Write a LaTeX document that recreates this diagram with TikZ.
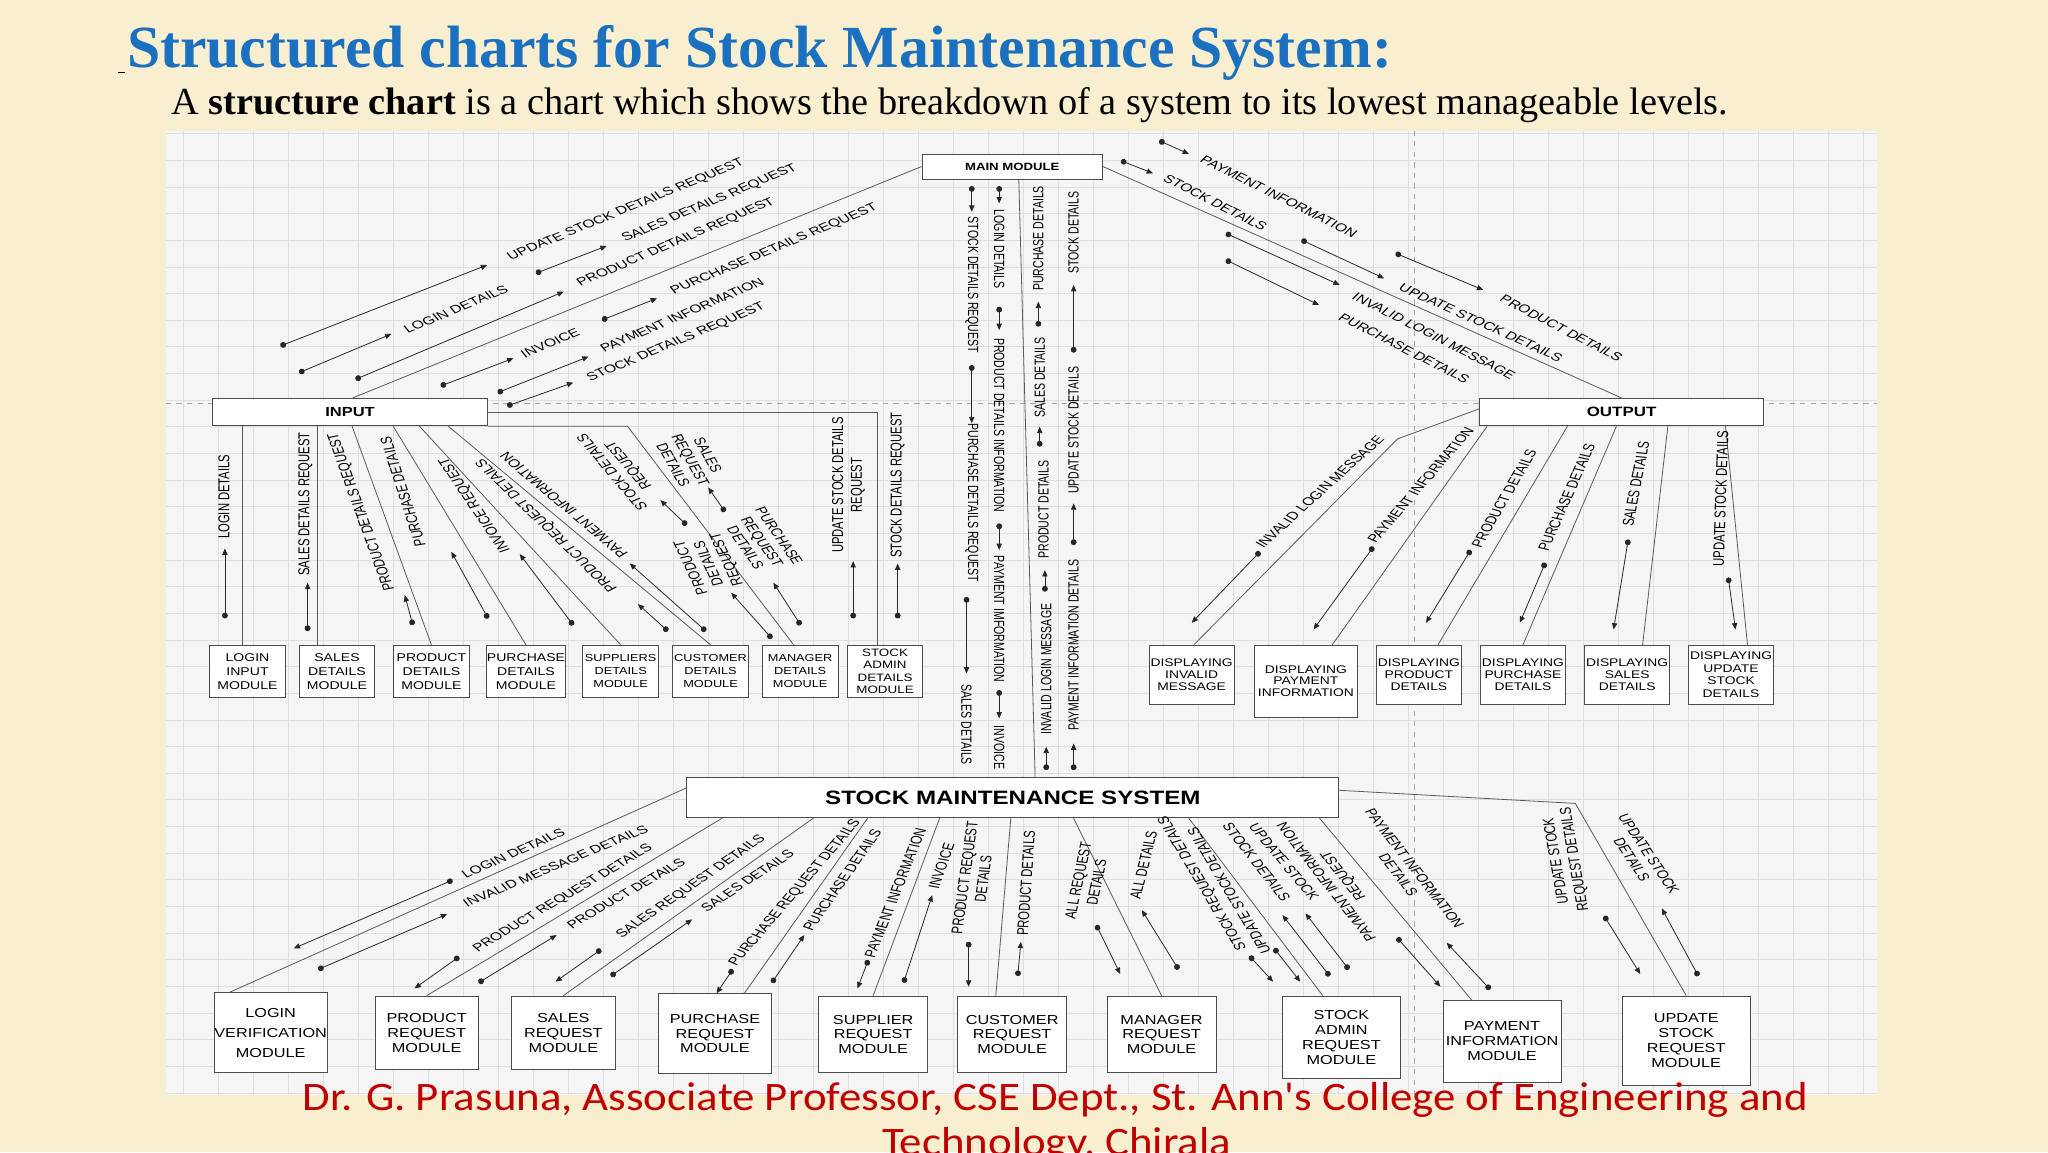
\documentclass[tikz,border=0pt]{standalone}
\usepackage{fontspec}
\setmainfont{Liberation Serif}
\newfontfamily\chartsans{Liberation Sans}
\newfontfamily\footsans{Carlito}
\usepackage{graphicx}
\usetikzlibrary{arrows.meta,calc}

\definecolor{parchment}{RGB}{248,239,208}
\definecolor{sheet}{RGB}{245,245,245}
\definecolor{gridline}{RGB}{222,222,222}
\definecolor{titleblue}{RGB}{28,112,192}
\definecolor{footred}{RGB}{192,0,0}
\newcommand\fsz[2]{\fontsize{#1}{#2}\selectfont}

\begin{document}
\begin{tikzpicture}[x=0.02612cm, y=-0.02612cm,
  box/.style={draw=black!70, fill=white, line width=0.5pt, inner sep=0pt,
    align=center, xscale=1.25, font=\chartsans\fsz{6.4}{8}},
  conn/.style={draw=black!65, line width=0.45pt},
  dflow/.style={draw=black!85, line width=0.45pt,
    arrows={Circle[length=3.3pt]-Triangle[length=3.6pt,width=3pt]}},
  lab/.style={font=\chartsans\fsz{6.4}{7.6}, inner sep=0pt, align=center,
    xscale=1.4, rotate={atan2(1.4*sin(#1),cos(#1))}},
  foot/.style={anchor=base, inner sep=0pt, text=footred, xscale=1.11,
    font=\footsans\fsz{23}{27}}]

  % box: name, centre, width, height, text
  \newcommand\chartbox[6][]{\node[box,#1,minimum width={#4*0.0209cm},
    minimum height={#5*0.02612cm}] (#2) at (#3) {#6};}
  % data couple: name, tail, head, label angle, label centre, label
  \newcommand\dataflow[6]{\coordinate (#1a) at (#2); \coordinate (#1b) at (#3);
    \draw[dflow] (#1a) -- (#1b);
    \node[lab=#4] (#1) at (#5) {#6};}

  \clip (0,0) rectangle (1568,882);
  \fill[parchment] (0,0) rectangle (1568,882);

  % drawing sheet with grid
  \fill[sheet] (127,100) rectangle (1437,838);
  \foreach \gx in {0,...,48}
    \draw[gridline, line width=0.35pt] ({140.4+26.8*\gx},100) -- ({140.4+26.8*\gx},838);
  \foreach \gy in {0,...,36}
    \draw[gridline, line width=0.35pt] (127,{102.3+20.4*\gy}) -- (1437,{102.3+20.4*\gy});
  \draw[black!35, dashed, line width=0.4pt] (127,309) -- (1437,309);
  \draw[black!35, dashed, line width=0.4pt] (1083,100) -- (1083,838);

  % title lines
  \draw[line width=0.9pt] (90.5,55.5) -- (95.5,55.5);
  \node[anchor=base west, inner sep=0pt, text=titleblue, font=\fsz{34}{40}\bfseries]
    (title) at (97,52) {Structured charts for Stock Maintenance System:};
  \node[anchor=base west, inner sep=0pt, font=\fsz{21.8}{25}]
    (subtitle) at (131,88) {A \textbf{structure chart} is a chart which shows the breakdown of a system to its lowest manageable levels.};

  % main boxes
  \chartbox[font=\chartsans\bfseries\fsz{6}{7}]{main}{775,127.5}{138}{19}{MAIN MODULE}
  \chartbox[font=\chartsans\bfseries\fsz{7.5}{9}]{input}{268,315.5}{210}{21}{INPUT}
  \chartbox[font=\chartsans\bfseries\fsz{7.7}{9}]{output}{1241.5,315.5}{217}{21}{OUTPUT}
  \chartbox[font=\chartsans\bfseries\fsz{11}{13}]{sms}{775.5,610.5}{499}{31}{STOCK MAINTENANCE SYSTEM}

  % input modules
  \chartbox{im1}{189.5,514}{58}{40}{LOGIN\\INPUT\\MODULE}
  \chartbox{im2}{258,514}{58}{40}{SALES\\DETAILS\\MODULE}
  \chartbox{im3}{330.3,514}{57.5}{40}{PRODUCT\\DETAILS\\MODULE}
  \chartbox{im4}{402.7,514}{58}{40}{PURCHASE\\DETAILS\\MODULE}
  \chartbox[font=\chartsans\fsz{5.8}{7.4}]{im5}{475.2,514}{58}{40}{SUPPLIERS\\DETAILS\\MODULE}
  \chartbox[font=\chartsans\fsz{5.8}{7.4}]{im6}{544,514}{58}{40}{CUSTOMER\\DETAILS\\MODULE}
  \chartbox[font=\chartsans\fsz{5.8}{7.4}]{im7}{612.6,514}{58}{40}{MANAGER\\DETAILS\\MODULE}
  \chartbox[font=\chartsans\fsz{6.1}{6.9}]{im8}{677.6,514}{57.5}{40}{STOCK\\ADMIN\\DETAILS\\MODULE}

  % output modules
  \chartbox[font=\chartsans\fsz{6.3}{6.8}]{od1}{912.3,516.5}{65}{45}{DISPLAYING\\INVALID\\MESSAGE}
  \chartbox[font=\chartsans\fsz{6.3}{6.8}]{od2}{999.8,521.5}{79.5}{55}{DISPLAYING\\PAYMENT\\INFORMATION}
  \chartbox[font=\chartsans\fsz{6.3}{6.8}]{od3}{1086.3,516.5}{65.5}{45}{DISPLAYING\\PRODUCT\\DETAILS}
  \chartbox[font=\chartsans\fsz{6.3}{6.8}]{od4}{1166,516.5}{65.6}{45}{DISPLAYING\\PURCHASE\\DETAILS}
  \chartbox[font=\chartsans\fsz{6.3}{6.8}]{od5}{1245.8,516.5}{65.2}{45}{DISPLAYING\\SALES\\DETAILS}
  \chartbox[font=\chartsans\fsz{6.3}{7.1}]{od6}{1325.3,516.5}{65}{45}{DISPLAYING\\UPDATE\\STOCK\\DETAILS}

  % request modules
  \chartbox[font=\chartsans\fsz{7.4}{8.5}]{bm1}{207.2,790.7}{86.6}{61.4}{LOGIN\\[3pt]VERIFICATION\\[3pt]MODULE}
  \chartbox[font=\chartsans\fsz{7.4}{8.5}]{bm2}{326.7,790.6}{79.2}{56}{PRODUCT\\REQUEST\\MODULE}
  \chartbox[font=\chartsans\fsz{7.4}{8.5}]{bm3}{431.3,790.6}{79.3}{56}{SALES\\REQUEST\\MODULE}
  \chartbox[font=\chartsans\fsz{7.4}{8.5}]{bm4}{547.4,791.3}{87.1}{61.5}{PURCHASE\\REQUEST\\MODULE}
  \chartbox[font=\chartsans\fsz{7.4}{8.5}]{bm5}{668.5,792}{83.8}{58.8}{SUPPLIER\\REQUEST\\MODULE}
  \chartbox[font=\chartsans\fsz{7.4}{8.5}]{bm6}{774.9,792}{83.8}{58.8}{CUSTOMER\\REQUEST\\MODULE}
  \chartbox[font=\chartsans\fsz{7.4}{8.5}]{bm7}{889.3,792}{83.4}{58.8}{MANAGER\\REQUEST\\MODULE}
  \chartbox[font=\chartsans\fsz{7.4}{8.5}]{bm8}{1027,794.3}{90.1}{63.4}{STOCK\\ADMIN\\REQUEST\\MODULE}
  \chartbox[font=\chartsans\fsz{7.4}{8.5}]{bm9}{1150,797.3}{90.5}{62.5}{PAYMENT\\INFORMATION\\MODULE}
  \chartbox[font=\chartsans\fsz{7.4}{8.5}]{bm10}{1291,796.8}{97.7}{68.4}{UPDATE\\STOCK\\REQUEST\\MODULE}

  % main module links
  \draw[conn] (main.west) -- ($(input.north)+(2,0)$);
  \draw[conn] (main.east) -- (output.north);
  \draw[conn] ($(main.south)+(5,0)$) -- ($(sms.north)+(17,0)$);

  % input links
  \draw[conn] ($(input.south west)+(23,0)$) coordinate (i1) -- (i1 |- im1.north);
  \draw[conn] ($(input.south west)+(80.6,0)$) coordinate (i2) -- (i2 |- im2.north);
  \draw[conn] ($(input.south west)+(107,0)$) -- (im3.north);
  \draw[conn] ($(input.south west)+(138.5,0)$) -- (im4.north);
  \draw[conn] ($(input.south west)+(158.6,0)$) -- (im5.north);
  \draw[conn] ($(input.south west)+(180.7,0)$) -- (im6.north);
  \draw[conn] (input.south east) -- ++(107,0) -- ($(im7.north)+(-5,0)$);
  \draw[conn] (input.east) -| ($(im8.north)+(-6,0)$);

  % output links
  \coordinate (obend) at (1070,336);
  \draw[conn] ($(output.west)+(0,-2.5)$) -- (obend) -- ($(od1.north)+(1.7,0)$);
  \draw[conn] ($(output.south west)+(6,0)$) -- ($(od2.north)+(20.2,0)$);
  \draw[conn] ($(output.south west)+(67.5,0)$) -- ($(od3.north)+(14.7,0)$);
  \draw[conn] ($(output.south west)+(105,0)$) -- (od4.north);
  \draw[conn] ($(output.south west)+(144.4,0)$) -- ($(od5.north)+(11.8,0)$);
  \draw[conn] ($(output.south west)+(188.5,0)$) -- ($(od6.north)+(12.6,0)$);

  % system links
  \draw[conn] ($(sms.north west)+(0,8.6)$) -- ($(bm1.north west)+(12.4,0)$);
  \draw[conn] ($(sms.south west)+(27.5,0)$) -- (bm2.north);
  \draw[conn] ($(sms.south west)+(97.3,0)$) -- (bm3.north);
  \draw[conn] ($(sms.south west)+(138.8,0)$) -- ($(bm4.north)+(22.7,0)$);
  \draw[conn] ($(sms.south west)+(193.9,0)$) -- (bm5.north);
  \draw[conn] ($(sms.south west)+(248.4,0)$) -- ($(bm6.north)+(-12.5,0)$);
  \draw[conn] ($(sms.south west)+(296.4,0)$) -- (bm7.north);
  \draw[conn] ($(sms.south west)+(384.6,0)$) -- ($(bm8.north)+(-14.3,0)$);
  \draw[conn] ($(sms.south west)+(484.7,0)$) -- ($(bm9.north)+(-23.2,0)$);
  \coordinate (sbend) at (1206.1,615.1);
  \draw[conn] ($(sms.north east)+(0,10.4)$) -- (sbend) -- (bm10.north);

  % couples main <-> input
  \dataflow{t1}{214.7,264.9}{372.9,202.9}{22.4}{479.2,160.7}{UPDATE STOCK DETAILS REQUEST}
  \dataflow{t2}{229,285.3}{299.7,255.7}{22.8}{349.1,236.8}{LOGIN DETAILS}
  \dataflow{t3}{410.3,209.2}{464.5,188.3}{22.7}{543.3,155.6}{SALES DETAILS REQUEST}
  \dataflow{t4}{272.2,290.4}{431.6,223.3}{23.1}{517.7,185.8}{PRODUCT DETAILS REQUEST}
  \dataflow{t5}{337.4,295.5}{393.1,274.3}{22.4}{421.3,262.8}{INVOICE}
  \dataflow{t6}{460.9,245}{503,228.4}{22.7}{592.8,190.9}{PURCHASE DETAILS REQUEST}
  \dataflow{t7}{381,300.6}{450.6,273}{23.1}{522.1,241.1}{PAYMENT INFORMATION}
  \dataflow{t8}{388.3,310.8}{438.9,292.9}{22.6}{517.7,262.3}{STOCK DETAILS REQUEST}

  % couples main <-> output
  \dataflow{r1}{887.5,107.7}{910.3,117.9}{-26.6}{979.1,150.5}{PAYMENT INFORMATION}
  \dataflow{r2}{858.2,123}{882.8,132.7}{-27}{930.4,155.1}{STOCK DETAILS}
  \dataflow{r3}{996.4,183.7}{1059.7,213.1}{-24.2}{1133.8,247}{UPDATE STOCK DETAILS}
  \dataflow{r4}{1068.5,193.9}{1135.6,222}{-27.2}{1195.3,251.3}{PRODUCT DETAILS}
  \dataflow{r5}{938.5,178.6}{1025.7,218.2}{-27}{1097.9,257.2}{INVALID LOGIN MESSAGE}
  \dataflow{r6}{938.5,199}{1009.9,233.5}{-27}{1075.1,266.7}{PURCHASE DETAILS}

  % couples main <-> system
  \dataflow{m1}{744,142.4}{744,162.1}{-90}{744,218.2}{\fsz{6}{7}STOCK DETAILS REQUEST}
  \dataflow{m2}{744,279.5}{744,324}{-90}{744,385}{\fsz{6}{7}PURCHASE DETAILS REQUEST}
  \dataflow{m3}{740,457}{740,515.6}{-90}{740,555}{\fsz{6}{7}SALES DETAILS}
  \dataflow{m4}{765,142.4}{765,155.7}{-90}{765,190.8}{\fsz{6}{7}LOGIN DETAILS}
  \dataflow{m5}{765,234.8}{765,252.7}{-90}{765,325.5}{\fsz{6}{7}PRODUCT DETAILS INFORMATION}
  \dataflow{m6}{765,400.7}{765,421.1}{-90}{765,474.1}{\fsz{6}{7}PAYMENT IMFORMATION}
  \dataflow{m7}{765,528.3}{765,550}{-90}{765,572.4}{\fsz{6}{7}INVOICE}
  \dataflow{m8}{795,250.1}{795,231}{90}{795,182.5}{\fsz{6}{7}PURCHASE DETAILS}
  \dataflow{m9}{796,342}{796,326.7}{90}{796,289}{\fsz{6}{7}SALES DETAILS}
  \dataflow{m10}{800,453}{800,436.5}{90}{799,390}{\fsz{6}{7}PRODUCT DETAILS}
  \dataflow{m11}{801,589.6}{801,571.7}{90}{801,512.4}{\fsz{6}{7}INVALID LOGIN MESSAGE}
  \dataflow{m12}{822,270}{822,218.2}{90}{822,178}{\fsz{6}{7}STOCK DETAILS}
  \dataflow{m13}{822,417.3}{822,385.4}{90}{822,329.3}{\fsz{6}{7}UPDATE STOCK DETAILS}
  \dataflow{m14}{822,589.6}{822,569.2}{90}{822,494}{\fsz{6}{7}PAYMENT INFORMATION DETAILS}

  % couples input <-> modules
  \dataflow{l1}{172.2,473.5}{172.2,419.9}{90}{171.4,380.3}{LOGIN DETAILS}
  \dataflow{l2}{235.5,483.2}{235.5,446.1}{90}{233.7,385.9}{SALES DETAILS REQUEST}
  \dataflow{l3}{316.1,478.6}{309.9,455.6}{110}{277,392}{PRODUCT DETAILS REQUEST}
  \dataflow{l4}{373.7,473.5}{345.5,422.4}{108}{308.5,376.5}{PURCHASE DETAILS}
  \dataflow{l5}{438.9,478.6}{397.9,424.2}{124}{363.8,386.7}{INVOICE REQUEST}
  \dataflow{l6}{511.4,483.2}{488.4,462.5}{136}{418.7,402}{PRODUCT REQUEST DETAILS}
  \dataflow{l7}{540.4,483.2}{482.1,431.4}{140}{431.6,386.7}{PAYMENT INFORMATION}
  \dataflow{l8}{525.7,402}{505.6,382.9}{130}{475.5,358.6}{STOCK DETAILS\\REQUEST}
  \dataflow{l9}{555.1,391.8}{542.2,373.2}{-60}{528.7,352.2}{SALES\\REQUEST\\DETAILS}
  \dataflow{l10}{590.9,488.8}{559.8,453.8}{115}{543.3,431.3}{PRODUCT\\DETAILS\\REQUEST}
  \dataflow{l11}{613,478.6}{592.1,446.1}{-55}{583.6,414.8}{PURCHASE\\REQUEST\\DETAILS}
  \dataflow{l12}{653.2,473.5}{653.2,429.6}{90}{649.6,371.4}{UPDATE STOCK DETAILS\\REQUEST}
  \dataflow{l13}{687.3,473.5}{687.3,431.4}{90}{687.3,371.4}{STOCK DETAILS REQUEST}

  % couples output <-> displays
  \dataflow{o1}{964.7,422.4}{912.4,476.8}{42}{1010.5,376.5}{INVALID LOGIN MESSAGE}
  \dataflow{o2}{1051.5,418.6}{1005.7,481.9}{49}{1087.7,371.4}{PAYMENT INFORMATION}
  \dataflow{o3}{1126,421.1}{1091.8,476.8}{60}{1151.6,381.6}{PRODUCT DETAILS}
  \dataflow{o4}{1183.1,430.8}{1163.6,476.8}{66}{1199.5,380.8}{PURCHASE DETAILS}
  \dataflow{o5}{1246.6,413}{1235.4,481.9}{79}{1252.5,370.6}{SALES DETAILS}
  \dataflow{o6}{1323.2,442.1}{1328.7,481.9}{88}{1317.4,381.6}{UPDATE STOCK DETAILS}

  % couples system <-> request modules
  \dataflow{b1}{346.5,673.8}{224.9,726.1}{23.7}{393,653.4}{LOGIN DETAILS}
  \dataflow{b2}{243.6,742.2}{342.3,699.8}{22.7}{425.3,663}{INVALID MESSAGE DETAILS}
  \dataflow{b3}{351.5,732.5}{317.4,756.7}{30.5}{431.1,687.8}{PRODUCT REQUEST DETAILS}
  \dataflow{b4}{366.4,752.4}{426.1,715.9}{29.9}{479.3,684}{PRODUCT DETAILS}
  \dataflow{b5}{460.2,726.9}{425.3,751.6}{34.5}{529.1,678.9}{SALES REQUEST DETAILS}
  \dataflow{b6}{467.6,747.3}{529.9,703.9}{33}{572.2,674.3}{SALES DETAILS}
  \dataflow{b7}{561,742.2}{548.6,760.5}{49.2}{608.8,683.5}{PURCHASE REQUEST DETAILS}
  \dataflow{b8}{590.9,752.4}{615.8,715.9}{55}{644.9,673.8}{PURCHASE DETAILS}
  \dataflow{b9}{664.8,735}{656.5,756.7}{68}{685.5,683.5}{PAYMENT INFORMATION}
  \dataflow{b10}{691.8,752.4}{713.7,685.3}{70}{720.8,663.1}{INVOICE}
  \dataflow{b11}{741.6,721}{741.6,755.4}{82}{745.7,672.5}{PRODUCT REQUEST\\DETAILS}
  \dataflow{b12}{779.2,747.3}{781.6,721}{86}{785.6,676.3}{PRODUCT DETAILS}
  \dataflow{b13}{839.3,708.2}{857.7,745.7}{78}{832.5,675}{ALL REQUEST\\DETAILS}
  \dataflow{b14}{902.3,742.2}{874.2,696.8}{76}{875.5,662.3}{ALL DETAILS}
  \dataflow{b15}{956.7,732}{974.7,751.6}{121}{921,676}{STOCK REQUEST DETAILS}
  \dataflow{b16}{975.5,726.1}{995.5,751.6}{121}{941,682}{UPDATE STOCK DETAILS}
  \dataflow{b17}{1018,747.3}{981.9,700.6}{-52}{962,660}{STOCK DETAILS}
  \dataflow{b18}{1032.7,742.2}{999.5,699.3}{-50}{983,660}{UPDATE STOCK}
  \dataflow{b19}{1069.6,717.9}{1102.8,755.4}{128}{1022.7,672.5}{PAYMENT INFORMATION\\REQUEST}
  \dataflow{b20}{1140.9,757.5}{1107.6,721.8}{-52}{1076.8,667.4}{PAYMENT INFORMATION\\DETAILS}
  \dataflow{b21}{1228.2,701.3}{1255.8,745.7}{100}{1199,658.5}{UPDATE STOCK\\REQUEST DETAILS}
  \dataflow{b22}{1300.3,747.3}{1272.3,695.5}{-56}{1255.8,655.9}{UPDATE STOCK\\DETAILS}

  % footer
  \node[foot] (footer) at (808,850) {Dr. G. Prasuna, Associate Professor, CSE Dept., St. Ann's College of Engineering and};
  \node[foot] (footer2) at (809,885) {Technology, Chirala};
\end{tikzpicture}
\end{document}
